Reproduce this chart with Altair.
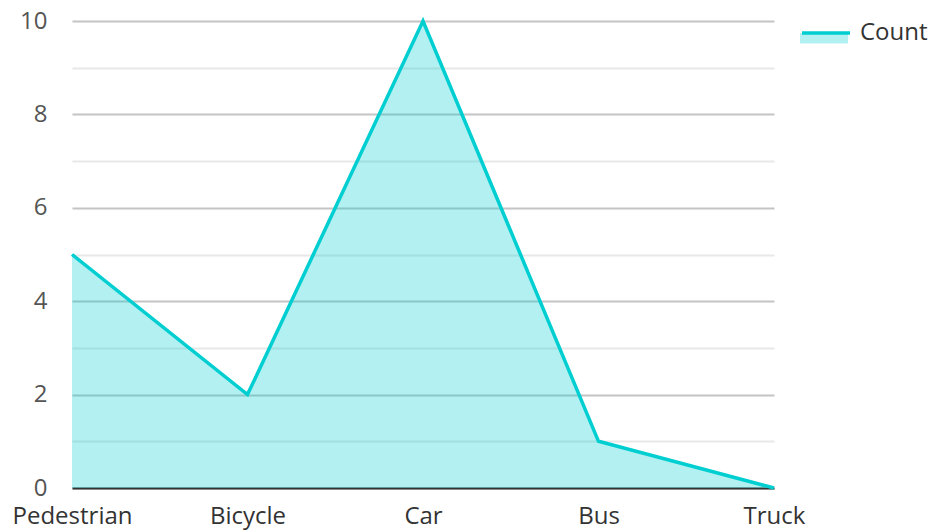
import altair as alt
import pandas as pd

categories = ["Pedestrian", "Bicycle", "Car", "Bus", "Truck"]
counts = [5, 2, 10, 1, 0]
series_name = "Count"
y_ticks = list(range(0, 11))

df = pd.DataFrame({
    "category": categories,
    "count": counts,
    "series": [series_name] * len(categories),
})

FONT = "Open Sans"
LINE = "#00CED1"
FS = 24

x = alt.X(
    "category:N", sort=categories,
    scale=alt.Scale(type="point", padding=0),
    axis=alt.Axis(title=None, labelAngle=0, labelFontSize=FS, labelColor="#333333",
                  labelFont=FONT, ticks=False, domainColor="#333333", domainWidth=2,
                  grid=False, labelPadding=16),
)
y = alt.Y(
    "count:Q",
    scale=alt.Scale(domain=[0, 10], nice=False),
    axis=alt.Axis(title=None, values=y_ticks,
                  labelExpr="datum.value % 2 === 0 ? datum.label : ''",
                  labelFontSize=FS, labelColor="#555555", labelFont=FONT,
                  labelPadding=25, ticks=False, domain=False, grid=True,
                  gridColor={"condition": {"test": "datum.value % 2 === 0", "value": "#C4C4C4"},
                             "value": "#E8E8E8"},
                  gridWidth=2),
)

area = alt.Chart(df).mark_area(fillOpacity=0.3).encode(
    x=x, y=y,
    fill=alt.Fill("series:N", scale=alt.Scale(range=[LINE]),
                  legend=alt.Legend(title=None, orient="none", legendX=728, legendY=-14,
                                    symbolType="M-1,0.08H1V0.52H-1Z", symbolSize=2304,
                                    symbolOpacity=0.3, symbolStrokeWidth=0,
                                    labelExpr="''", labelFontSize=FS, labelFont=FONT,
                                    padding=0, labelOffset=8)),
)
line = alt.Chart(df).mark_line(strokeWidth=3.5).encode(
    x=x, y=y,
    stroke=alt.Stroke("series:N", scale=alt.Scale(range=[LINE]),
                      legend=alt.Legend(title=None, orient="none", legendX=728, legendY=-14,
                                        symbolType="stroke", symbolSize=2304,
                                        symbolStrokeWidth=3.5,
                                        labelFontSize=FS, labelFont=FONT, labelColor="#333333",
                                        padding=0, labelOffset=8)),
)

chart = alt.layer(area, line).resolve_scale(fill="independent", stroke="independent").properties(
    width=702, height=467,
    autosize=alt.AutoSizeParams(type="none"),
    padding={"left": 72, "top": 21, "right": 158, "bottom": 43},
).configure_view(stroke=None)

chart.save("out.html", embed_options={"renderer": "svg", "actions": False})
